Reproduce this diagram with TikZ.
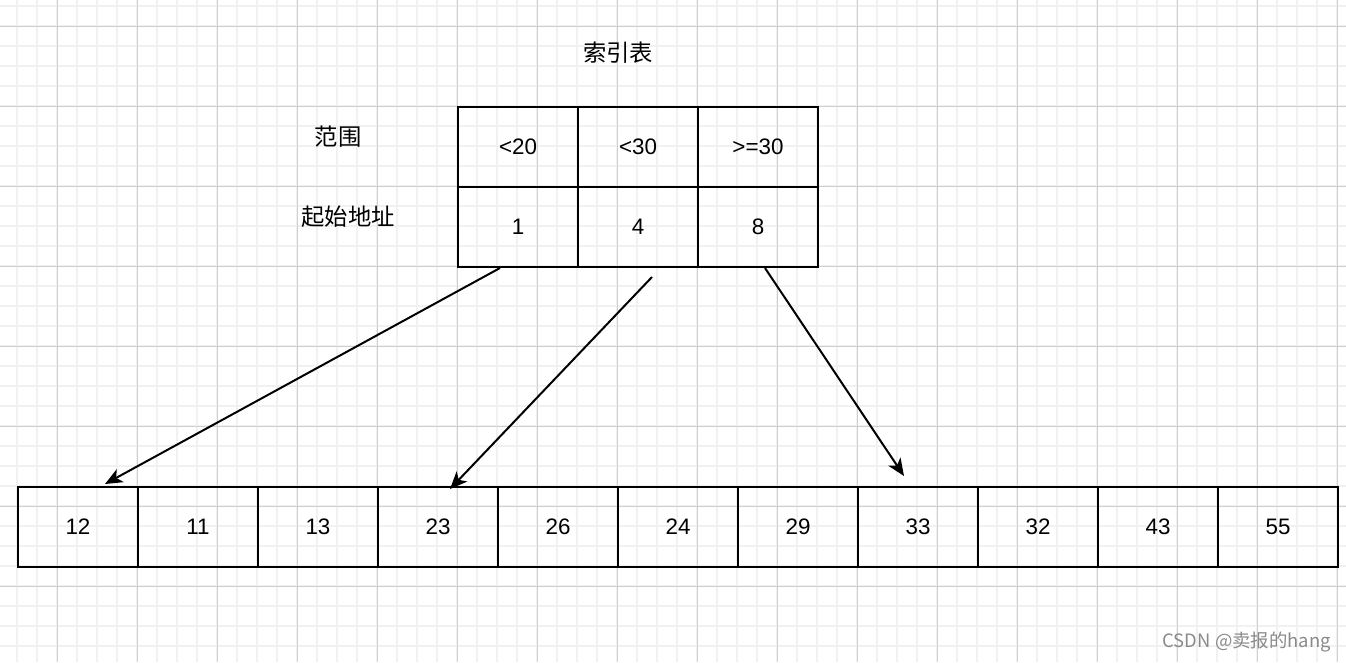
\documentclass[tikz,border=0pt]{standalone}
\usepackage{fontspec}
\setmainfont{Liberation Sans}
\newfontfamily\cjk{Noto Sans CJK SC}
\usetikzlibrary{arrows.meta,calc}
\definecolor{gridmajor}{HTML}{D0D0D0}
\definecolor{gridminor}{HTML}{F1F1F1}
\definecolor{wmgray}{HTML}{8A8A8A}
\begin{document}
\begin{tikzpicture}[x=0.75pt,y=-0.75pt,
  cell/.style={draw=black,line width=1.5pt,minimum width=90pt,minimum height=60pt,inner sep=0pt,font=\fontsize{16.8}{18}\selectfont},
  lbl/.style={inner sep=0pt,font=\cjk\fontsize{17.5}{19}\selectfont},
  arr/.style={line width=1.5pt,-{Stealth[length=13pt,width=11pt,inset=3.5pt]}}]
\fill[white] (0,0) rectangle (1346,662);
\useasboundingbox (0,0) rectangle (1346,662);
% grid
\foreach \x in {17,37,...,1337} \draw[gridminor,line width=1.2pt] (\x,0) -- (\x,662);
\foreach \y in {6,26,...,646} \draw[gridminor,line width=1.2pt] (0,\y) -- (1346,\y);
\foreach \x in {57,137,...,1337} \draw[gridmajor,line width=0.75pt] (\x,0) -- (\x,662);
\foreach \y in {26,106,...,586} \draw[gridmajor,line width=0.75pt] (0,\y) -- (1346,\y);
% title and labels
\node[lbl] (title) at (618,53) {索引表};
\node[lbl] (range) at (338,137) {范围};
\node[lbl] (addr) at (348,217) {起始地址};
% index table
\node[cell] (r1) at (518,147) {<20};
\node[cell] (r2) at (638,147) {<30};
\node[cell] (r3) at (758,147) {>=30};
\node[cell] (a1) at (518,227) {1};
\node[cell] (a2) at (638,227) {4};
\node[cell] (a3) at (758,227) {8};
% array
\foreach \v [count=\i] in {12,11,13,23,26,24,29,33,32,43,55}
  \node[cell] (e\i) at ({78+120*(\i-1)},527) {\v};
% arrows
\coordinate (s1) at (500,268);
\coordinate (t1) at (105,484);
\coordinate (s2) at (652,277);
\coordinate (t2) at (450,489);
\coordinate (s3) at (765,268);
\coordinate (t3) at (904,476);
\draw[arr] (s1) -- (t1);
\draw[arr] (s2) -- (t2);
\draw[arr] (s3) -- (t3);
% watermark
\node[anchor=east,inner sep=0pt,text=wmgray,font=\cjk\fontsize{13.8}{15}\selectfont] (wm) at (1331,642) {CSDN @卖报的hang};
\end{tikzpicture}
\end{document}
